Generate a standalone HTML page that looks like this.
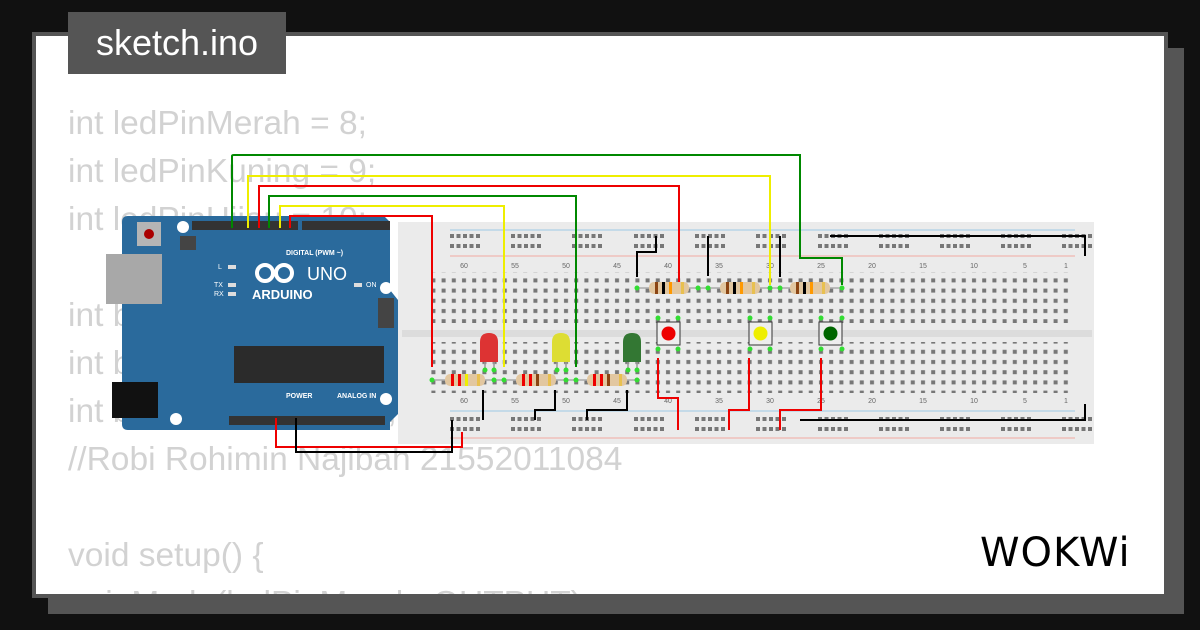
<!DOCTYPE html>
<html><head><meta charset="utf-8"><style>
html,body{margin:0;padding:0;width:1200px;height:630px;overflow:hidden;background:#111;}
.abs{position:absolute;}
.code{position:absolute;left:68px;font-family:"Liberation Sans","DejaVu Sans",sans-serif;font-size:33.5px;color:#d2d2d2;white-space:pre;line-height:48px;}
</style></head><body>
<div class="abs" style="left:48px;top:48px;width:1136px;height:566px;background:#555;"></div>
<div class="abs" style="left:32px;top:32px;width:1136px;height:566px;background:#555;"></div>
<div class="abs" style="left:36px;top:36px;width:1128px;height:558px;background:#fff;overflow:hidden;">
<div class="code" style="left:32px;top:64px;">int ledPinMerah = 8;
int ledPinKuning = 9;
int ledPinHijau = 10;

int buttonPinMerah = 2;
int buttonPinKuning = 3;
int buttonPinHijau = 4;
//Robi Rohimin Najibah 21552011084

void setup() {
  pinMode(ledPinMerah, OUTPUT);</div>
</div>
<div class="abs" style="left:68px;top:12px;width:218px;height:62px;background:#555;color:#fff;font-family:'Liberation Sans','DejaVu Sans',sans-serif;font-size:36px;line-height:62px;text-align:center;">sketch.ino</div>

<svg class="abs" style="left:0;top:0" width="1200" height="630" viewBox="0 0 1200 630">
<defs>
<pattern id="h5" x="0" y="0" width="10.2" height="10.2" patternUnits="userSpaceOnUse"><rect x="3" y="3" width="4" height="4" fill="#777"/></pattern>
</defs>
<rect x="398" y="222" width="696" height="222" fill="#ebebeb"/>
<rect x="402" y="330" width="690" height="7" fill="#dcdcdc"/>
<line x1="450" y1="230" x2="1075" y2="230" stroke="#9cc9e6" stroke-width="1"/>
<line x1="450" y1="256" x2="1075" y2="256" stroke="#f0a8a0" stroke-width="1"/>
<line x1="450" y1="411" x2="1075" y2="411" stroke="#9cc9e6" stroke-width="1"/>
<line x1="450" y1="438" x2="1075" y2="438" stroke="#f0a8a0" stroke-width="1"/>
<rect x="427.9" y="272" width="643" height="51" fill="url(#h5)"/>
<rect x="427.9" y="342" width="643" height="51" fill="url(#h5)"/>
<g fill="#777">
<g id="rg">
<rect x="450" y="234" width="4" height="4"/><rect x="456.5" y="234" width="4" height="4"/><rect x="463" y="234" width="4" height="4"/><rect x="469.5" y="234" width="4" height="4"/><rect x="476" y="234" width="4" height="4"/>
<rect x="450" y="244" width="4" height="4"/><rect x="456.5" y="244" width="4" height="4"/><rect x="463" y="244" width="4" height="4"/><rect x="469.5" y="244" width="4" height="4"/><rect x="476" y="244" width="4" height="4"/>
</g>
</g>
<g fill="#777">
<use href="#rg" x="0"/><use href="#rg" x="61"/><use href="#rg" x="122"/><use href="#rg" x="184"/><use href="#rg" x="245"/><use href="#rg" x="306"/><use href="#rg" x="368"/><use href="#rg" x="429"/><use href="#rg" x="490"/><use href="#rg" x="551"/><use href="#rg" x="612"/>
<use href="#rg" y="183" x="0"/><use href="#rg" y="183" x="61"/><use href="#rg" y="183" x="122"/><use href="#rg" y="183" x="184"/><use href="#rg" y="183" x="245"/><use href="#rg" y="183" x="306"/><use href="#rg" y="183" x="368"/><use href="#rg" y="183" x="429"/><use href="#rg" y="183" x="490"/><use href="#rg" y="183" x="551"/><use href="#rg" y="183" x="612"/>
</g>
<g font-family="Liberation Sans,sans-serif" font-size="7" fill="#666" text-anchor="middle">
<text x="464" y="268">60</text><text x="515" y="268">55</text><text x="566" y="268">50</text><text x="617" y="268">45</text><text x="668" y="268">40</text><text x="719" y="268">35</text><text x="770" y="268">30</text><text x="821" y="268">25</text><text x="872" y="268">20</text><text x="923" y="268">15</text><text x="974" y="268">10</text><text x="1025" y="268">5</text><text x="1066" y="268">1</text>
<text x="464" y="403">60</text><text x="515" y="403">55</text><text x="566" y="403">50</text><text x="617" y="403">45</text><text x="668" y="403">40</text><text x="719" y="403">35</text><text x="770" y="403">30</text><text x="821" y="403">25</text><text x="872" y="403">20</text><text x="923" y="403">15</text><text x="974" y="403">10</text><text x="1025" y="403">5</text><text x="1066" y="403">1</text>
</g>

<path d="M122 222 Q122 216 128 216 L384 216 L390 222 L390 290 L398 300 L398 414 L390 422 L390 430 L128 430 Q122 430 122 424 Z" fill="#2a6a9c"/>
<rect x="106" y="254" width="56" height="50" fill="#a8a8a8"/>
<rect x="112" y="382" width="46" height="36" fill="#111"/>
<rect x="137" y="222" width="24" height="24" fill="#b5b5b5"/>
<circle cx="149" cy="234" r="5" fill="#a00"/>
<circle cx="183" cy="227" r="6" fill="#fff"/>
<circle cx="386" cy="288" r="6" fill="#fff"/>
<circle cx="386" cy="399" r="6" fill="#fff"/>
<circle cx="176" cy="419" r="6" fill="#fff"/>
<rect x="192" y="221" width="106" height="9" fill="#333"/>
<rect x="302" y="221" width="88" height="9" fill="#333"/>
<rect x="229" y="416" width="93" height="9" fill="#333"/>
<rect x="321" y="416" width="64" height="9" fill="#333"/>
<rect x="234" y="346" width="150" height="37" fill="#2b2b2b"/>
<rect x="378" y="298" width="16" height="30" fill="#444"/>
<rect x="180" y="236" width="16" height="14" fill="#444"/>
<g font-family="Liberation Sans,sans-serif" fill="#fff">
<text x="252" y="299" font-size="13" font-weight="bold">ARDUINO</text>
<text x="307" y="280" font-size="18">UNO</text>
<text x="286" y="255" font-size="7" font-weight="bold">DIGITAL (PWM ~)</text>
<text x="286" y="398" font-size="7" font-weight="bold">POWER</text>
<text x="337" y="398" font-size="7" font-weight="bold">ANALOG IN</text>
<text x="218" y="269" font-size="7">L</text><text x="214" y="287" font-size="7">TX</text><text x="214" y="296" font-size="7">RX</text><text x="366" y="287" font-size="7">ON</text>
</g>
<g fill="none" stroke="#fff" stroke-width="4"><circle cx="265" cy="273" r="8"/><circle cx="284" cy="273" r="8"/></g>
<g fill="#ddd"><rect x="228" y="265" width="8" height="4"/><rect x="228" y="283" width="8" height="4"/><rect x="228" y="292" width="8" height="4"/><rect x="354" y="283" width="8" height="4"/></g>

<g fill="none" stroke-width="2">
<path d="M232 228 L232 156 Q232 155 234 155 L800 155 L800 258 L842 258 L842 285" stroke="#080"/>
<path d="M248 228 L248 176 L770 176 L770 285" stroke="#ee0"/>
<path d="M259 228 L259 186 L679 186 L679 285" stroke="#e00"/>
<path d="M269 228 L269 196 L576 196 L576 367" stroke="#080"/>
<path d="M280 228 L280 206 L504 206 L504 367" stroke="#ee0"/>
<path d="M290 228 L290 216 L432 216 L432 367" stroke="#e00"/>
<path d="M276 418 L276 447 L462 447 L462 432" stroke="#e00"/>
<path d="M296 418 L296 452 L452 452 L452 420" stroke="#000"/>
<path d="M656 236 L656 252 L637 252 L637 277" stroke="#000"/>
<path d="M708 236 L708 276" stroke="#000"/>
<path d="M780 236 L780 277" stroke="#000"/>
<path d="M830 236 L1085 236 L1085 256" stroke="#000"/>
<path d="M800 420 L1085 420 L1085 404" stroke="#000"/>
<path d="M483 390 L483 420" stroke="#000"/>
<path d="M555 390 L555 410 L535 410 L535 420" stroke="#000"/>
<path d="M627 390 L627 410 L587 410 L587 420" stroke="#000"/>
<path d="M658 358 L658 398 L678 398 L678 430" stroke="#e00"/>
<path d="M749 358 L749 410 L729 410 L729 430" stroke="#e00"/>
<path d="M821 358 L821 410 L780 410 L780 430" stroke="#e00"/>
</g>
<g>
<line x1="432" y1="380" x2="576" y2="380" stroke="#aaa" stroke-width="1.5"/>
<rect x="445" y="374" width="40" height="12" rx="5" fill="#e2c7a0"/><rect x="451" y="374" width="3" height="12" fill="#e00"/><rect x="458" y="374" width="3" height="12" fill="#e00"/><rect x="465" y="374" width="3" height="12" fill="#ee0"/><rect x="477" y="374" width="3" height="12" fill="#e8c050"/>
<rect x="516" y="374" width="40" height="12" rx="5" fill="#e2c7a0"/><rect x="522" y="374" width="3" height="12" fill="#e00"/><rect x="529" y="374" width="3" height="12" fill="#e00"/><rect x="536" y="374" width="3" height="12" fill="#8b4513"/><rect x="548" y="374" width="3" height="12" fill="#e8c050"/>
<line x1="576" y1="380" x2="640" y2="380" stroke="#aaa" stroke-width="1.5"/>
<rect x="587" y="374" width="40" height="12" rx="5" fill="#e2c7a0"/><rect x="593" y="374" width="3" height="12" fill="#e00"/><rect x="600" y="374" width="3" height="12" fill="#e00"/><rect x="607" y="374" width="3" height="12" fill="#8b4513"/><rect x="619" y="374" width="3" height="12" fill="#e8c050"/>
</g>
<g>
<line x1="637" y1="288" x2="842" y2="288" stroke="#aaa" stroke-width="1.5"/>
<rect x="649" y="282" width="40" height="12" rx="5" fill="#e2c7a0"/><rect x="655" y="282" width="3" height="12" fill="#8b4513"/><rect x="662" y="282" width="3" height="12" fill="#000"/><rect x="669" y="282" width="3" height="12" fill="#f90"/><rect x="681" y="282" width="3" height="12" fill="#e8c050"/>
<rect x="720" y="282" width="40" height="12" rx="5" fill="#e2c7a0"/><rect x="726" y="282" width="3" height="12" fill="#8b4513"/><rect x="733" y="282" width="3" height="12" fill="#000"/><rect x="740" y="282" width="3" height="12" fill="#f90"/><rect x="752" y="282" width="3" height="12" fill="#e8c050"/>
<rect x="790" y="282" width="40" height="12" rx="5" fill="#e2c7a0"/><rect x="796" y="282" width="3" height="12" fill="#8b4513"/><rect x="803" y="282" width="3" height="12" fill="#000"/><rect x="810" y="282" width="3" height="12" fill="#f90"/><rect x="822" y="282" width="3" height="12" fill="#e8c050"/>
</g>
<g stroke="#999" stroke-width="1.5"><line x1="485" y1="358" x2="485" y2="370"/><line x1="494" y1="358" x2="494" y2="370"/><line x1="557" y1="358" x2="557" y2="370"/><line x1="566" y1="358" x2="566" y2="370"/><line x1="628" y1="358" x2="628" y2="370"/><line x1="637" y1="358" x2="637" y2="370"/></g>
<path d="M480 362 L480 342 Q480 333 489 333 Q498 333 498 342 L498 362 Z" fill="#d33"/>
<path d="M552 362 L552 342 Q552 333 561 333 Q570 333 570 342 L570 362 Z" fill="#dd3"/>
<path d="M623 362 L623 342 Q623 333 632 333 Q641 333 641 342 L641 362 Z" fill="#373"/>
<g stroke="#333" stroke-width="1"><rect x="657" y="322" width="23" height="23" fill="#eee"/><rect x="749" y="322" width="23" height="23" fill="#eee"/><rect x="819" y="322" width="23" height="23" fill="#eee"/></g>
<circle cx="668.5" cy="333.5" r="7" fill="#e00"/><circle cx="760.5" cy="333.5" r="7" fill="#ee0"/><circle cx="830.5" cy="333.5" r="7" fill="#060"/>
<g fill="#3d3">
<circle cx="432" cy="380" r="2.5"/><circle cx="494" cy="380" r="2.5"/><circle cx="504" cy="380" r="2.5"/><circle cx="566" cy="380" r="2.5"/><circle cx="576" cy="380" r="2.5"/><circle cx="637" cy="380" r="2.5"/>
<circle cx="485" cy="370" r="2.5"/><circle cx="494" cy="370" r="2.5"/><circle cx="557" cy="370" r="2.5"/><circle cx="566" cy="370" r="2.5"/><circle cx="628" cy="370" r="2.5"/><circle cx="637" cy="370" r="2.5"/>
<circle cx="637" cy="288" r="2.5"/><circle cx="698" cy="288" r="2.5"/><circle cx="708" cy="288" r="2.5"/><circle cx="770" cy="288" r="2.5"/><circle cx="780" cy="288" r="2.5"/><circle cx="842" cy="288" r="2.5"/>
<circle cx="658" cy="318" r="2.5"/><circle cx="678" cy="318" r="2.5"/><circle cx="658" cy="349" r="2.5"/><circle cx="678" cy="349" r="2.5"/>
<circle cx="750" cy="318" r="2.5"/><circle cx="770" cy="318" r="2.5"/><circle cx="750" cy="349" r="2.5"/><circle cx="770" cy="349" r="2.5"/>
<circle cx="821" cy="318" r="2.5"/><circle cx="842" cy="318" r="2.5"/><circle cx="821" cy="349" r="2.5"/><circle cx="842" cy="349" r="2.5"/>
</g>
<text x="980" y="566" font-family="DejaVu Sans,Liberation Sans,sans-serif" font-size="40" fill="#000" letter-spacing="1">WOKWi</text>
</svg>
</body></html>
